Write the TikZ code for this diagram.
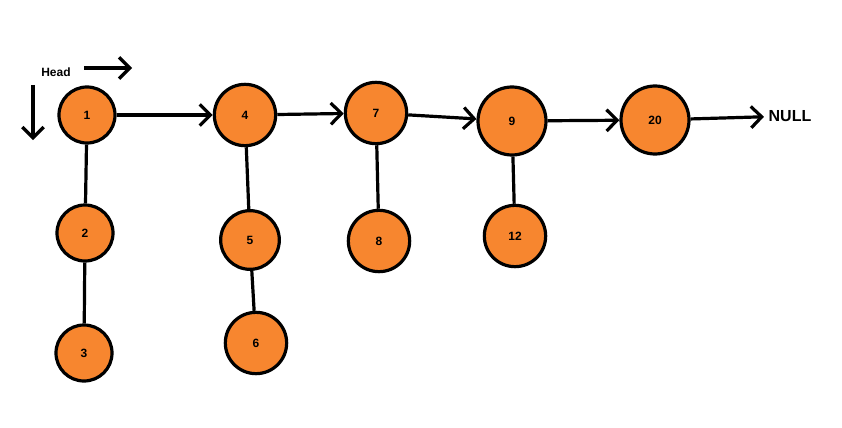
\documentclass[tikz,border=0pt]{standalone}
\usepackage{fontspec}
\setmainfont{Liberation Sans}
\usetikzlibrary{arrows.meta}
\definecolor{nodeor}{HTML}{F7862F}
\begin{document}
\begin{tikzpicture}[x=0.75pt,y=-0.75pt,
  ln/.style={line width=2.4pt,black},
  ar/.style={ln,-{Straight Barb[length=8pt,width=16pt,line width=2.4pt]}},
  nd/.style={circle,draw=black,line width=2.4pt,fill=nodeor,font=\bfseries\small,inner sep=0pt}]
\useasboundingbox (0,0) rectangle (842,428);
\node[nd,minimum size=42pt] (n1) at (87,115) {1};
\node[nd,minimum size=46pt] (n4) at (245,115) {4};
\node[nd,minimum size=46pt] (n7) at (376,113) {7};
\node[nd,minimum size=51pt] (n9) at (512,121) {9};
\node[nd,minimum size=51pt] (n20) at (655,120) {20};
\node[nd,minimum size=42pt] (n2) at (85,233) {2};
\node[nd,minimum size=42pt] (n3) at (84,353) {3};
\node[nd,minimum size=44pt] (n5) at (250,240) {5};
\node[nd,minimum size=46pt] (n6) at (256,343) {6};
\node[nd,minimum size=46pt] (n8) at (379,241) {8};
\node[nd,minimum size=46pt] (n12) at (515,236) {12};
\node[font=\bfseries\small] (head) at (56,72) {Head};
\node[font=\bfseries\large] (null) at (790,116) {NULL};
\coordinate (hs) at (84,68); \coordinate (he) at (132,68);
\coordinate (ds) at (33,85); \coordinate (de) at (33,140);
\draw[ar] (hs) -- (he);
\draw[ar] (ds) -- (de);
\draw[ar] (n1) -- (n4);
\draw[ar] (n4) -- (n7);
\draw[ar] (n7) -- (n9);
\draw[ar] (n9) -- (n20);
\draw[ar] (n20) -- (null);
\draw[ln] (n1) -- (n2);
\draw[ln] (n2) -- (n3);
\draw[ln] (n4) -- (n5);
\draw[ln] (n5) -- (n6);
\draw[ln] (n7) -- (n8);
\draw[ln] (n9) -- (n12);
\end{tikzpicture}
\end{document}
